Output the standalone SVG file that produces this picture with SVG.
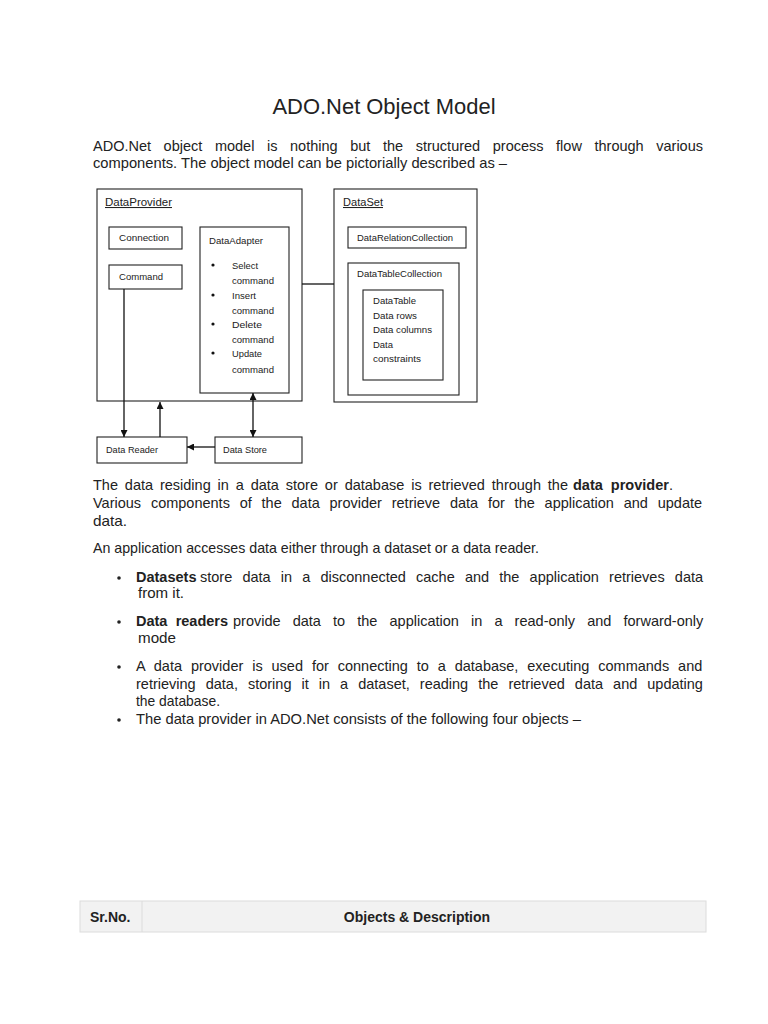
<svg xmlns="http://www.w3.org/2000/svg" width="768" height="1024" viewBox="0 0 768 1024">
<defs>
<style>
.t{font-family:"Liberation Sans",Arial,sans-serif;font-size:14.5px;fill:#222}
.b{font-weight:bold}
.ttl{font-family:"Liberation Sans",Arial,sans-serif;font-size:22px;fill:#222}
.d{font-family:"Liberation Sans",Arial,sans-serif;font-size:9.5px;fill:#222}
.hd{font-family:"Liberation Sans",Arial,sans-serif;font-size:10.5px;fill:#222;text-decoration:underline}
.box{fill:#fff;stroke:#222;stroke-width:1.1}
.ln{stroke:#111;stroke-width:1.3;fill:none}
.th{font-family:"Liberation Sans",Arial,sans-serif;font-size:14px;font-weight:bold;fill:#222}
</style>
<marker id="ah" viewBox="0 0 10 10" refX="10" refY="5" markerWidth="7" markerHeight="7" markerUnits="userSpaceOnUse" orient="auto-start-reverse">
<path d="M0,0 L10,5 L0,10 Z" fill="#111"/>
</marker>
</defs>
<rect width="768" height="1024" fill="#fff"/>

<text class="ttl" x="384" y="114" text-anchor="middle" textLength="223" lengthAdjust="spacingAndGlyphs">ADO.Net Object Model</text>

<text class="t" x="93" y="151" word-spacing="8.56">ADO.Net object model is nothing but the structured process flow through various</text>
<text class="t" x="93" y="168" textLength="414" lengthAdjust="spacingAndGlyphs">components. The object model can be pictorially described as –</text>

<!-- Diagram -->
<g id="dataprovider">
<rect class="box" x="97" y="189" width="205" height="212"/>
<text class="hd" x="105" y="206" textLength="67" lengthAdjust="spacingAndGlyphs">DataProvider</text>
</g>
<g id="connection">
<rect class="box" x="109" y="227" width="73" height="22"/>
<text class="d" x="119" y="241" textLength="50" lengthAdjust="spacingAndGlyphs">Connection</text>
</g>
<g id="command">
<rect class="box" x="109" y="265" width="73" height="24"/>
<text class="d" x="119" y="280" textLength="44" lengthAdjust="spacingAndGlyphs">Command</text>
</g>
<g id="dataadapter">
<rect class="box" x="200" y="227" width="89" height="166"/>
<text class="d" x="209" y="244" textLength="54" lengthAdjust="spacingAndGlyphs">DataAdapter</text>
<circle cx="213" cy="265" r="1.6" fill="#111"/>
<circle cx="213" cy="295" r="1.6" fill="#111"/>
<circle cx="213" cy="324" r="1.6" fill="#111"/>
<circle cx="213" cy="353" r="1.6" fill="#111"/>
<text class="d" x="232" y="269" textLength="26" lengthAdjust="spacingAndGlyphs">Select</text>
<text class="d" x="232" y="284" textLength="42" lengthAdjust="spacingAndGlyphs">command</text>
<text class="d" x="232" y="299" textLength="24" lengthAdjust="spacingAndGlyphs">Insert</text>
<text class="d" x="232" y="314" textLength="42" lengthAdjust="spacingAndGlyphs">command</text>
<text class="d" x="232" y="328" textLength="30" lengthAdjust="spacingAndGlyphs">Delete</text>
<text class="d" x="232" y="343" textLength="42" lengthAdjust="spacingAndGlyphs">command</text>
<text class="d" x="232" y="357" textLength="30" lengthAdjust="spacingAndGlyphs">Update</text>
<text class="d" x="232" y="373" textLength="42" lengthAdjust="spacingAndGlyphs">command</text>
</g>
<g id="dataset">
<rect class="box" x="334" y="189" width="143" height="213"/>
<text class="hd" x="343" y="206" textLength="40" lengthAdjust="spacingAndGlyphs">DataSet</text>
</g>
<g id="datarelationcollection">
<rect class="box" x="348" y="227" width="118" height="21"/>
<text class="d" x="357" y="241" textLength="96" lengthAdjust="spacingAndGlyphs">DataRelationCollection</text>
</g>
<g id="datatablecollection">
<rect class="box" x="348" y="263" width="111" height="132"/>
<text class="d" x="357" y="277" textLength="85" lengthAdjust="spacingAndGlyphs">DataTableCollection</text>
</g>
<g id="datatable">
<rect class="box" x="363" y="290" width="80" height="90"/>
<text class="d" x="373" y="304" textLength="43" lengthAdjust="spacingAndGlyphs">DataTable</text>
<text class="d" x="373" y="319" textLength="44" lengthAdjust="spacingAndGlyphs">Data rows</text>
<text class="d" x="373" y="333" textLength="59" lengthAdjust="spacingAndGlyphs">Data columns</text>
<text class="d" x="373" y="348" textLength="20" lengthAdjust="spacingAndGlyphs">Data</text>
<text class="d" x="373" y="362" textLength="48" lengthAdjust="spacingAndGlyphs">constraints</text>
</g>
<g id="datareader">
<rect class="box" x="97" y="437" width="90" height="26"/>
<text class="d" x="106" y="453" textLength="52" lengthAdjust="spacingAndGlyphs">Data Reader</text>
</g>
<g id="datastore">
<rect class="box" x="215" y="437" width="87" height="26"/>
<text class="d" x="223" y="453" textLength="44" lengthAdjust="spacingAndGlyphs">Data Store</text>
</g>

<g id="connectors">
<line class="ln" x1="302" y1="284" x2="334" y2="284"/>
<line class="ln" x1="124" y1="289" x2="124" y2="437" marker-end="url(#ah)"/>
<line class="ln" x1="160" y1="437" x2="160" y2="402" marker-end="url(#ah)"/>
<line class="ln" x1="253" y1="393" x2="253" y2="437" marker-start="url(#ah)" marker-end="url(#ah)"/>
<line class="ln" x1="215" y1="447" x2="187" y2="447" marker-end="url(#ah)"/>
</g>

<!-- Body text -->
<text class="t" x="93" y="490" word-spacing="2.84">The data residing in a data store or database is retrieved through the</text>
<text class="t b" x="573" y="490" word-spacing="4">data provider</text>
<text class="t" x="669" y="490">.</text>
<text class="t" x="93" y="508" word-spacing="5.77">Various components of the data provider retrieve data for the application and update</text>
<text class="t" x="93" y="526" textLength="34" lengthAdjust="spacingAndGlyphs">data.</text>

<text class="t" x="93" y="553" textLength="446" lengthAdjust="spacingAndGlyphs">An application accesses data either through a dataset or a data reader.</text>

<g fill="#222">
<circle cx="119" cy="578" r="1.8"/>
<circle cx="119" cy="622" r="1.8"/>
<circle cx="119" cy="667" r="1.8"/>
<circle cx="119" cy="720" r="1.8"/>
</g>
<text class="t b" x="136" y="582">Datasets</text>
<text class="t" x="200" y="582" word-spacing="6.13">store data in a disconnected cache and the application retrieves data</text>
<text class="t" x="138" y="598" textLength="46" lengthAdjust="spacingAndGlyphs">from it.</text>

<text class="t b" x="136" y="626" word-spacing="4.2">Data readers</text>
<text class="t" x="233" y="626" word-spacing="8.1">provide data to the application in a read-only and forward-only</text>
<text class="t" x="138" y="643" textLength="38" lengthAdjust="spacingAndGlyphs">mode</text>

<text class="t" x="136" y="671" word-spacing="4.87">A data provider is used for connecting to a database, executing commands and</text>
<text class="t" x="136" y="689" word-spacing="6.0">retrieving data, storing it in a dataset, reading the retrieved data and updating</text>
<text class="t" x="136" y="706" textLength="84" lengthAdjust="spacingAndGlyphs">the database.</text>
<text class="t" x="136" y="724" textLength="445" lengthAdjust="spacingAndGlyphs">The data provider in ADO.Net consists of the following four objects –</text>

<!-- Table header -->
<rect x="80" y="901" width="626" height="31" fill="#f2f2f2" stroke="#dcdcdc" stroke-width="1"/>
<line x1="142" y1="901" x2="142" y2="932" stroke="#dcdcdc" stroke-width="1"/>
<text class="th" x="90" y="922">Sr.No.</text>
<text class="th" x="417" y="922" text-anchor="middle">Objects &amp; Description</text>
</svg>
